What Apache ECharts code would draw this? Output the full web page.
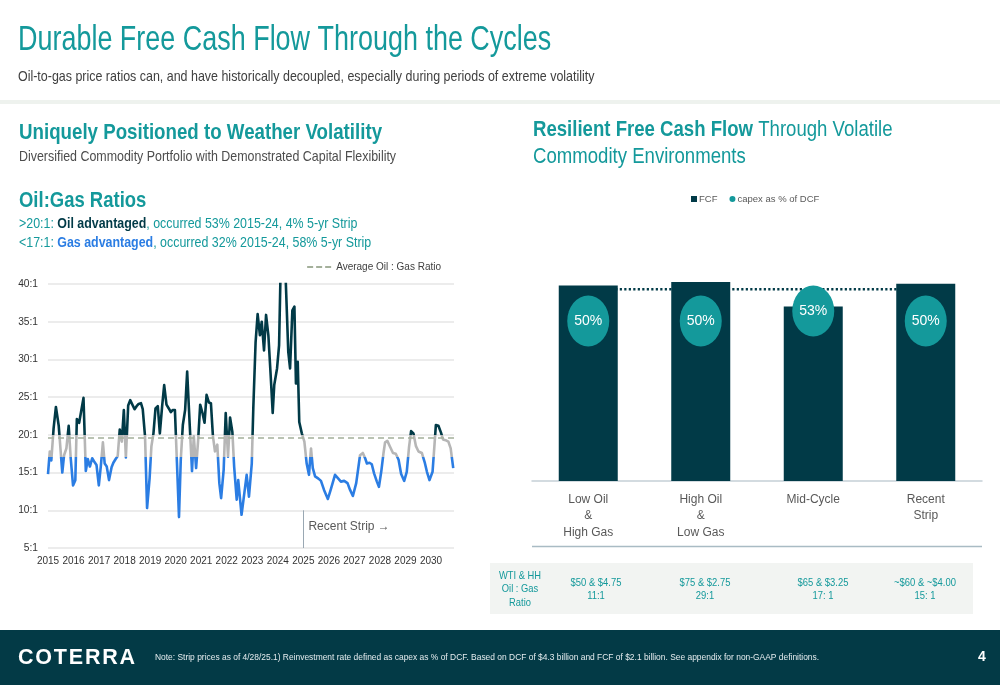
<!DOCTYPE html>
<html><head><meta charset="utf-8">
<script src="https://cdn.jsdelivr.net/npm/echarts@6/dist/echarts.min.js"></script>
<style>html,body{margin:0;padding:0;background:#fff}#c{width:1000px;height:685px}</style>
</head><body><div id="c"></div>
<script>
// ---- Oil:Gas ratio series (decimal year, ratio) ----
const ratioYears = [
2015.00,2015.07,2015.13,2015.22,2015.31,2015.42,2015.56,2015.63,2015.72,2015.81,2015.89,2015.98,
2016.07,2016.13,2016.22,2016.39,2016.48,2016.56,2016.64,2016.73,2016.80,2016.90,2016.99,
2017.07,2017.15,2017.22,2017.30,2017.39,2017.49,2017.56,2017.65,2017.73,2017.81,2017.89,2017.97,
2018.05,2018.14,2018.22,2018.29,2018.39,2018.47,2018.55,2018.64,2018.71,2018.80,2018.88,2018.98,
2019.05,2019.13,2019.21,2019.30,2019.38,2019.47,2019.55,2019.64,2019.73,2019.81,2019.89,2019.97,
2020.05,2020.13,2020.20,2020.28,2020.37,2020.45,2020.55,2020.64,2020.71,2020.80,2020.88,2020.96,
2021.05,2021.13,2021.21,2021.30,2021.38,2021.46,2021.54,2021.63,2021.71,2021.78,2021.88,2021.96,
2022.05,2022.13,2022.22,2022.29,2022.39,2022.45,2022.58,2022.65,2022.78,2022.87,2022.98,
2023.04,2023.13,2023.21,2023.30,2023.37,2023.46,2023.54,2023.63,2023.72,2023.80,2023.86,2023.97,
2024.05,2024.11,2024.17,2024.26,2024.31,2024.41,2024.48,2024.57,2024.65,2024.71,2024.78,2024.84,2024.94,
2025.04,2025.13,2025.22,2025.30,2025.37,2025.46,2025.59,2025.69,2025.81,2025.96,
2026.07,2026.24,2026.37,2026.47,2026.60,2026.73,2026.83,2026.94,
2027.07,2027.16,2027.22,2027.33,2027.42,2027.49,2027.59,2027.68,2027.77,2027.88,2027.96,
2028.05,2028.14,2028.20,2028.29,2028.40,2028.51,2028.62,2028.73,2028.83,2028.95,
2029.05,2029.14,2029.22,2029.31,2029.41,2029.51,2029.64,2029.75,2029.84,2029.94,
2030.06,2030.13,2030.19,2030.29,2030.39,2030.47,2030.57,2030.68,2030.77,2030.87
];
const ratioValues = [
14.8,17.8,16.6,20.9,23.7,21.2,15.0,17.3,18.2,21.2,16.9,13.3,
14.0,22.1,21.6,24.9,15.2,16.8,15.8,16.9,16.5,16.0,13.3,
15.9,19.0,16.2,15.8,14.0,15.7,16.3,16.8,17.2,20.7,19.1,23.3,
17.0,23.9,24.6,24.8,23.4,23.8,24.1,24.2,23.4,19.8,10.3,14.3,
18.5,20.2,23.5,23.8,20.2,23.8,26.6,24.0,23.5,23.0,23.3,23.3,
16.3,9.1,16.7,21.3,23.3,28.4,21.3,15.2,19.8,15.6,19.3,24.0,
22.9,21.6,25.3,24.3,24.2,19.8,17.8,18.7,13.6,11.6,15.4,22.9,
17.1,22.3,20.4,15.8,11.4,14.0,9.4,9.6,14.7,11.8,16.2,
23.5,32.3,36.0,33.2,35.0,31.2,35.9,33.2,27.9,22.9,26.6,28.8,
31.9,42.0,48.0,45.0,40.5,31.0,28.8,36.5,37.0,26.8,29.7,21.7,20.2,
19.1,16.2,14.7,18.2,15.6,14.5,14.2,13.9,12.7,11.5,
12.7,14.7,14.2,13.8,13.9,13.6,12.7,11.9,
13.6,15.8,17.3,17.6,16.9,16.2,16.3,16.1,14.9,13.8,13.1,
15.1,17.6,19.0,19.2,18.4,17.6,17.5,16.7,14.8,13.9,
15.1,18.4,20.5,20.2,18.5,17.8,17.6,16.4,15.1,14.0,
15.1,18.4,21.3,21.2,20.3,19.4,19.3,19.1,18.2,15.6
];
const avgRatio = 19.6;
const oilAdvantaged = 20;   // > 20:1
const gasAdvantaged = 17;   // < 17:1
const stripStartYear = 2025;

// ---- FCF through the cycles ----
const scenarioLabels = ['Low Oil\n&\nHigh Gas', 'High Oil\n&\nLow Gas', 'Mid-Cycle', 'Recent\nStrip'];
const fcfValues = [2.15, 2.19, 1.92, 2.17];
const fcfAvg = 2.11;
const capexPct = [50, 50, 53, 50];
const priceDecks = ['$50 & $4.75', '$75 & $2.75', '$65 & $3.25', '~$60 & ~$4.00'];
const deckRatios = ['11:1', '29:1', '17: 1', '15: 1'];

// ---- layout / style constants ----
const SANS = '"Liberation Sans", Arial, sans-serif';
const TEAL = '#14999b';
const NAVY = '#013a47';
const BLUE = '#2b7de3';
const GREY = '#b6b6b6';
const TXT = '#404040';
const tableColX = [596, 705, 823, 925];

// text element helper (scaleX emulates the narrow typeface of the original)
function GT(text, x, y, o) {
  const st = {
    text: text, fill: o.color, fontSize: o.size, fontWeight: o.weight || 'normal', fontFamily: o.family || SANS,
    align: o.align || 'left', textAlign: o.align || 'left', verticalAlign: 'middle', textVerticalAlign: 'middle'
  };
  if (o.lh) st.lineHeight = o.lh;
  if (o.rich) st.rich = o.rich;
  return { type: 'text', x: x, y: y, scaleX: o.sx || 1, z: 20, silent: true, style: st };
}
function R(color, size, lh, weight) {
  return { fill: color, fontSize: size, lineHeight: lh, fontFamily: SANS, fontWeight: weight || 'normal' };
}

const texts = [
  GT('Durable Free Cash Flow Through the Cycles', 18, 40, { size: 35, color: TEAL, sx: 0.77 }),
  GT('Oil-to-gas price ratios can, and have historically decoupled, especially during periods of extreme volatility', 18, 77, { size: 15, color: TXT, sx: 0.83 }),
  GT('Uniquely Positioned to Weather Volatility', 19, 133, { size: 21.5, color: TEAL, weight: 'bold', sx: 0.87 }),
  GT('Diversified Commodity Portfolio with Demonstrated Capital Flexibility', 19, 157, { size: 14.5, color: '#4d4d4d', sx: 0.857 }),
  GT('Oil:Gas Ratios', 19, 201, { size: 22, color: TEAL, weight: 'bold', sx: 0.84 }),
  GT('{a|>20:1: }{n|Oil advantaged}{a|, occurred 53% 2015-24, 4% 5-yr Strip}\n{a|<17:1: }{g|Gas advantaged}{a|, occurred 32% 2015-24, 58% 5-yr Strip}',
    19, 233.3, { size: 14.5, lh: 18.5, color: TEAL, sx: 0.856,
      rich: { a: R(TEAL, 14.5, 18.5), n: R(NAVY, 14.5, 18.5, 'bold'), g: R(BLUE, 14.5, 18.5, 'bold') } }),
  GT('{b|Resilient Free Cash Flow}{a| Through Volatile}\n{a|Commodity Environments}', 533, 143.5,
    { size: 22, lh: 27, color: TEAL, sx: 0.845, rich: { a: R(TEAL, 22, 27), b: R(TEAL, 22, 27, 'bold') } }),
  GT('WTI & HH\nOil : Gas\nRatio', 520, 589.3, { size: 11, lh: 13.4, color: TEAL, align: 'center', sx: 0.85 }),
  GT('C\u200AO\u200AT\u200AE\u200AR\u200AR\u200AA', 18, 658, { size: 21.5, color: '#ffffff', weight: 'bold' }),
  GT('Note: Strip prices as of 4/28/25.1) Reinvestment rate defined as capex as % of DCF. Based on DCF of $4.3 billion and FCF of $2.1 billion. See appendix for non-GAAP definitions.',
    155, 657, { size: 9.8, color: '#e4ebee', sx: 0.86 }),
  GT('4', 978, 657, { size: 14, color: '#ffffff', weight: 'bold' })
];
priceDecks.forEach(function (d, i) {
  texts.push(GT(d + '\n' + deckRatios[i], tableColX[i], 589.3, { size: 11.8, lh: 13.4, color: TEAL, align: 'center', sx: 0.8 }));
});

const chart = echarts.init(document.getElementById('c'), null, { renderer: 'canvas' });
chart.setOption({
  animation: false,
  backgroundColor: '#ffffff',
  textStyle: { fontFamily: SANS },
  graphic: [
    { type: 'rect', z: -10, shape: { x: 0, y: 100, width: 1000, height: 4 }, style: { fill: '#eef2ee' } },
    { type: 'rect', z: -10, shape: { x: 0, y: 630, width: 1000, height: 55 }, style: { fill: '#033a46' } },
    { type: 'rect', z: -10, shape: { x: 490, y: 563, width: 483, height: 51 }, style: { fill: '#f2f4f2' } },
    { type: 'line', z: -5, shape: { x1: 532, y1: 546.5, x2: 982, y2: 546.5 }, style: { stroke: '#a9bbc4', lineWidth: 1.5 } }
  ].concat(texts),
  legend: [
    { data: [{ name: 'Average Oil : Gas Ratio', icon: 'path://M0,0h6v2h-6z M9,0h6v2h-6z M18,0h6v2h-6z' }],
      right: 559, top: 262, padding: 0, itemWidth: 24, itemHeight: 2, itemGap: 5,
      selectedMode: false, textStyle: { color: TXT, fontSize: 10, fontFamily: SANS } },
    { data: [{ name: 'FCF', icon: 'rect' }, { name: 'capex as % of DCF', icon: 'circle' }], left: 691, top: 194, padding: 0,
      itemWidth: 6, itemHeight: 6, itemGap: 12, selectedMode: false,
      textStyle: { color: '#595959', fontSize: 9.5, fontFamily: SANS, padding: [0, 0, 0, -3] } }
  ],
  visualMap: {
    show: false, type: 'piecewise', seriesIndex: 0, dimension: 1,
    pieces: [
      { lt: gasAdvantaged, color: BLUE },
      { gte: gasAdvantaged, lte: oilAdvantaged, color: GREY },
      { gt: oilAdvantaged, color: NAVY }
    ]
  },
  grid: [
    { left: 48, top: 284, width: 406, height: 264, outerBoundsMode: 'none' },
    { left: 532, top: 281, width: 450, height: 200, outerBoundsMode: 'none' }
  ],
  xAxis: [
    { type: 'value', gridIndex: 0, min: 2015, max: 2030.9, interval: 1,
      axisLine: { show: false }, axisTick: { show: false }, splitLine: { show: false },
      axisLabel: { color: '#333', fontSize: 10, margin: 8, fontFamily: SANS, hideOverlap: false,
        formatter: function (v) { return Number.isInteger(v) ? String(v) : ''; } } },
    { type: 'category', gridIndex: 1, data: scenarioLabels,
      axisLine: { show: true, lineStyle: { color: '#c5cfd6', width: 1.5 } }, axisTick: { show: false },
      axisLabel: { color: '#595959', fontSize: 12, lineHeight: 16.5, margin: 10, fontFamily: SANS, interval: 0 } }
  ],
  yAxis: [
    { type: 'value', gridIndex: 0, min: 5, max: 40, interval: 5,
      axisLine: { show: false }, axisTick: { show: false },
      splitLine: { show: true, lineStyle: { color: '#e6e6e6', width: 1.5 } },
      axisLabel: { formatter: '{value}:1', color: '#333', fontSize: 10.2, margin: 10, fontFamily: SANS } },
    { type: 'value', gridIndex: 1, min: 0, max: 2.2, show: false, splitLine: { show: false } },
    { type: 'value', gridIndex: 1, min: 2, max: 62, show: false, splitLine: { show: false } }
  ],
  series: [
    { type: 'line', name: 'ratio', xAxisIndex: 0, yAxisIndex: 0,
      data: ratioYears.map(function (t, i) { return [t, ratioValues[i]]; }),
      symbol: 'none', showSymbol: false, clip: true, lineStyle: { width: 2.6, join: 'round' }, z: 3 },
    { type: 'line', name: 'Average Oil : Gas Ratio', xAxisIndex: 0, yAxisIndex: 0, data: [],
      symbol: 'none', itemStyle: { color: '#a4b09b' },
      lineStyle: { color: '#a4b09b', type: [6, 4], width: 1.6 },
      markLine: { silent: true, symbol: 'none', label: { show: false }, animation: false,
        data: [
          { yAxis: avgRatio, lineStyle: { color: '#a4b09b', type: [6, 4], width: 1.6 } },
          [ { coord: [stripStartYear, 10], lineStyle: { color: '#9aa8b3', type: 'solid', width: 1 } }, { coord: [stripStartYear, 5] } ]
        ] },
      markPoint: { silent: true, animation: false,
        data: [ { coord: [stripStartYear + 0.18, 7.8], symbol: 'rect', symbolSize: 1, itemStyle: { color: 'rgba(0,0,0,0)' },
          label: { show: true, position: 'right', distance: 0, formatter: 'Recent Strip \u2192', color: '#595959', fontSize: 12, fontFamily: SANS } } ] },
      z: 2 },
    { type: 'line', name: 'avgFcf', xAxisIndex: 1, yAxisIndex: 1,
      data: scenarioLabels.map(function () { return fcfAvg; }),
      symbol: 'none', lineStyle: { color: NAVY, width: 2.5, type: [2.2, 2.3] }, z: 1, silent: true },
    { type: 'bar', name: 'FCF', xAxisIndex: 1, yAxisIndex: 1, data: fcfValues, barWidth: 59,
      itemStyle: { color: NAVY }, z: 2 },
    { type: 'scatter', name: 'capex as % of DCF', xAxisIndex: 1, yAxisIndex: 2, data: capexPct,
      symbol: 'circle', symbolSize: [42, 51], itemStyle: { color: TEAL, opacity: 1 },
      label: { show: true, position: 'inside', formatter: function (p) { return p.value + '%'; },
        color: '#ffffff', fontSize: 14, fontFamily: SANS }, z: 3 }
  ]
});
</script>
</body></html>
